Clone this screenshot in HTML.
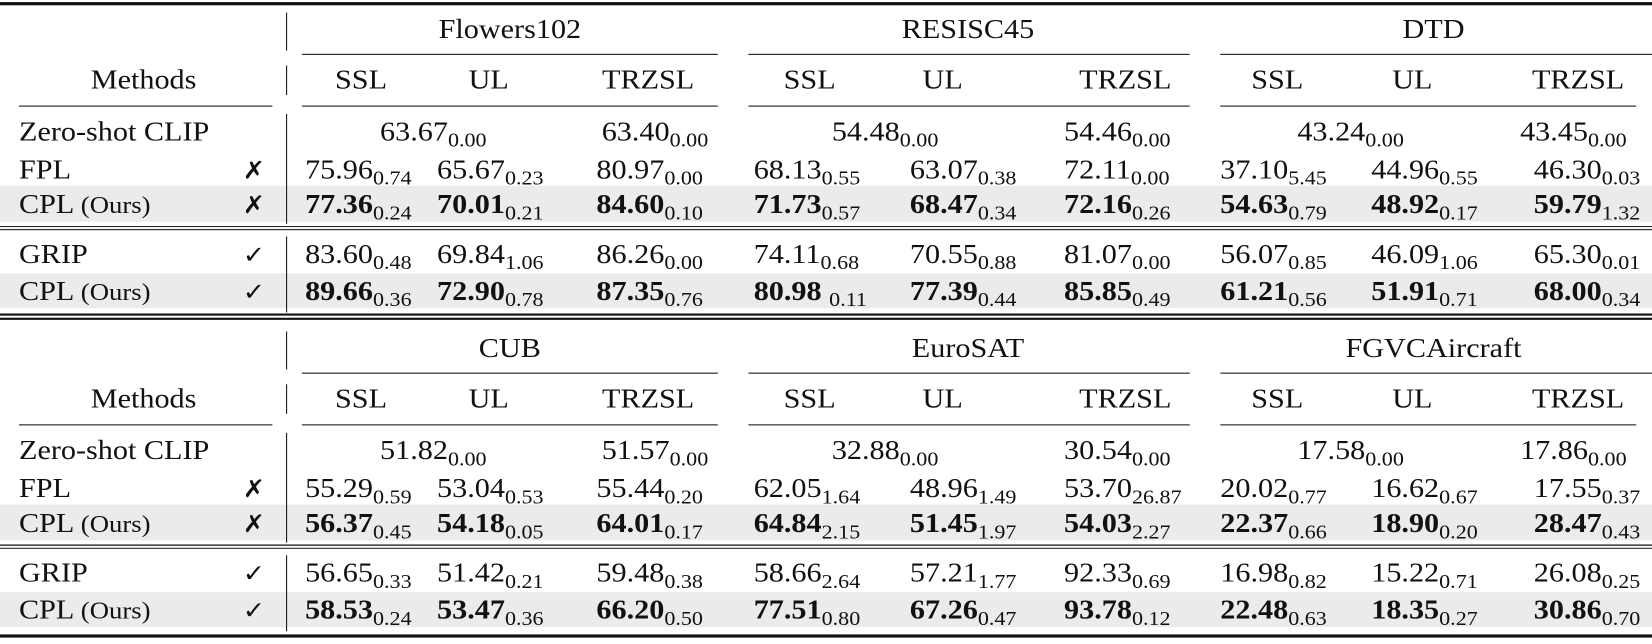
<!DOCTYPE html>
<html><head><meta charset="utf-8"><style>
html,body{margin:0;padding:0;background:#fff;width:1652px;height:638px;overflow:hidden}
#wrap{position:absolute;left:0;top:0;width:1565px;height:610px;transform:scale(1.0556);transform-origin:0 0;font-family:"Liberation Serif",serif;color:#111}
.t{position:absolute;white-space:nowrap;font-size:26px;line-height:30px;transform:scaleX(1.1);transform-origin:0 50%}
.t.c{transform-origin:50% 50%}
.s{font-size:19px;position:relative;top:6px}
.b{font-weight:bold}
.r{position:absolute;background:#111}
.g{position:absolute;background:#ebebeb;left:0;width:1565px}
.m{font-family:"DejaVu Sans",sans-serif;font-size:23px}
</style></head><body>
<div id="wrap"></div>
<script>
const datasets = [["Flowers102","RESISC45","DTD"],["CUB","EuroSAT","FGVCAircraft"]];
const methods = ["Zero-shot CLIP","FPL","CPL (Ours)","GRIP","CPL (Ours)"];
const marks = ["","✗","✗","✓","✓"];
const zeroShot = [[["63.67","0.00"],["63.40","0.00"],["54.48","0.00"],["54.46","0.00"],["43.24","0.00"],["43.45","0.00"]],
 [["51.82","0.00"],["51.57","0.00"],["32.88","0.00"],["30.54","0.00"],["17.58","0.00"],["17.86","0.00"]]];
const top1 = [
 [["75.96","0.74"],["65.67","0.23"],["80.97","0.00"],["68.13","0.55"],["63.07","0.38"],["72.11","0.00"],["37.10","5.45"],["44.96","0.55"],["46.30","0.03"]],
 [["77.36","0.24"],["70.01","0.21"],["84.60","0.10"],["71.73","0.57"],["68.47","0.34"],["72.16","0.26"],["54.63","0.79"],["48.92","0.17"],["59.79","1.32"]],
 [["83.60","0.48"],["69.84","1.06"],["86.26","0.00"],["74.11","0.68"],["70.55","0.88"],["81.07","0.00"],["56.07","0.85"],["46.09","1.06"],["65.30","0.01"]],
 [["89.66","0.36"],["72.90","0.78"],["87.35","0.76"],["80.98 ","0.11"],["77.39","0.44"],["85.85","0.49"],["61.21","0.56"],["51.91","0.71"],["68.00","0.34"]]];
const bottom1 = [
 [["55.29","0.59"],["53.04","0.53"],["55.44","0.20"],["62.05","1.64"],["48.96","1.49"],["53.70","26.87"],["20.02","0.77"],["16.62","0.67"],["17.55","0.37"]],
 [["56.37","0.45"],["54.18","0.05"],["64.01","0.17"],["64.84","2.15"],["51.45","1.97"],["54.03","2.27"],["22.37","0.66"],["18.90","0.20"],["28.47","0.43"]],
 [["56.65","0.33"],["51.42","0.21"],["59.48","0.38"],["58.66","2.64"],["57.21","1.77"],["92.33","0.69"],["16.98","0.82"],["15.22","0.71"],["26.08","0.25"]],
 [["58.53","0.24"],["53.47","0.36"],["66.20","0.50"],["77.51","0.80"],["67.26","0.47"],["93.78","0.12"],["22.48","0.63"],["18.35","0.27"],["30.86","0.70"]]];
const subs = ["SSL","UL","TRZSL"];

const W = document.getElementById('wrap');
const colX = [289,414,565,714,862,1008,1156,1299,1453];
const zsX = [360,570,788,1008,1229,1440];
const subC = [342,463,614,767,893,1066,1210,1338,1495];
const grpC = [483,917,1358];
const grpR = [[286,680],[709,1127],[1156,1565]];
const subR = [[286,680],[709,1127],[1156,1550]];
function rule(x,y,w,h,name){const d=document.createElement('div');d.className='r';d.style.cssText=`left:${x}px;top:${y}px;width:${w}px;height:${h}px`;


W.appendChild(d);}
function txt(html,x,cy,name,center,cls){const d=document.createElement('div');d.className='t'+(center?' c':'')+(cls?' '+cls:'');d.innerHTML=html;d.style.top=(cy-14)+'px';
if(center){d.style.left=(x-200)+'px';d.style.width='400px';d.style.textAlign='center';}else d.style.left=x+'px';


W.appendChild(d);}
function val(v,bold){return `<span class="${bold?'b':''}">${v[0]}</span><span class="s">${v[1]}</span>`;}

[0,302].forEach((off,h)=>{
  const rows=[124,160,193,240,275].map(y=>y+off);
  const band=[[176,210],[259,292]];
  band.forEach(b=>{const g=document.createElement('div');g.className='g';g.style.top=(b[0]+off)+'px';g.style.height=(b[1]-b[0])+'px';
  
  
  W.appendChild(g);});
  datasets[h].forEach((n,i)=>{txt(n,grpC[i],27+off,'dataset-header',true);
    rule(grpR[i][0],51+off,grpR[i][1]-grpR[i][0],1.3,'dataset-rule');
    rule(subR[i][0],100+off,subR[i][1]-subR[i][0],1.3,'subheader-rule');
    subs.forEach((s,k)=>txt(s,subC[i*3+k],75+off,'setting-header',true));});
  txt('Methods',136,75+off,'methods-header',true);
  rule(18,100+off,240,1.3,'methods-rule');
  rule(271,12+off,1.2,36,'vline');rule(271,62+off,1.2,28,'vline');
  rule(271,108+off,1.2,104,'vline');rule(271,224+off,1.2,72,'vline');
  methods.forEach((m,i)=>{const html=m.replace('(Ours)','<span style="font-size:23px">(Ours)</span>');
    txt(html,18,rows[i],'method-name');
    if(marks[i])txt(marks[i],230,rows[i]+1,'pseudo-label-mark',false,'m');});
  zeroShot[h].forEach((v,i)=>txt(val(v,false),zsX[i],rows[0],'zero-shot-value'));
  const data=h?bottom1:top1;
  data.forEach((r,ri)=>r.forEach((v,ci)=>txt(val(v,ri%2===1),colX[ci],rows[ri+1],'value-cell')));
});
rule(0,2,1565,2.5,'top-rule');
rule(0,214,1565,1.3,'mid-rule');rule(0,217,1565,1.3,'mid-rule');
rule(0,297,1565,1.5,'split-rule');rule(0,301,1565,1.5,'split-rule');
rule(0,516,1565,1.3,'mid-rule');rule(0,519,1565,1.3,'mid-rule');
rule(0,601,1565,2.5,'bottom-rule');
</script>
</body></html>
